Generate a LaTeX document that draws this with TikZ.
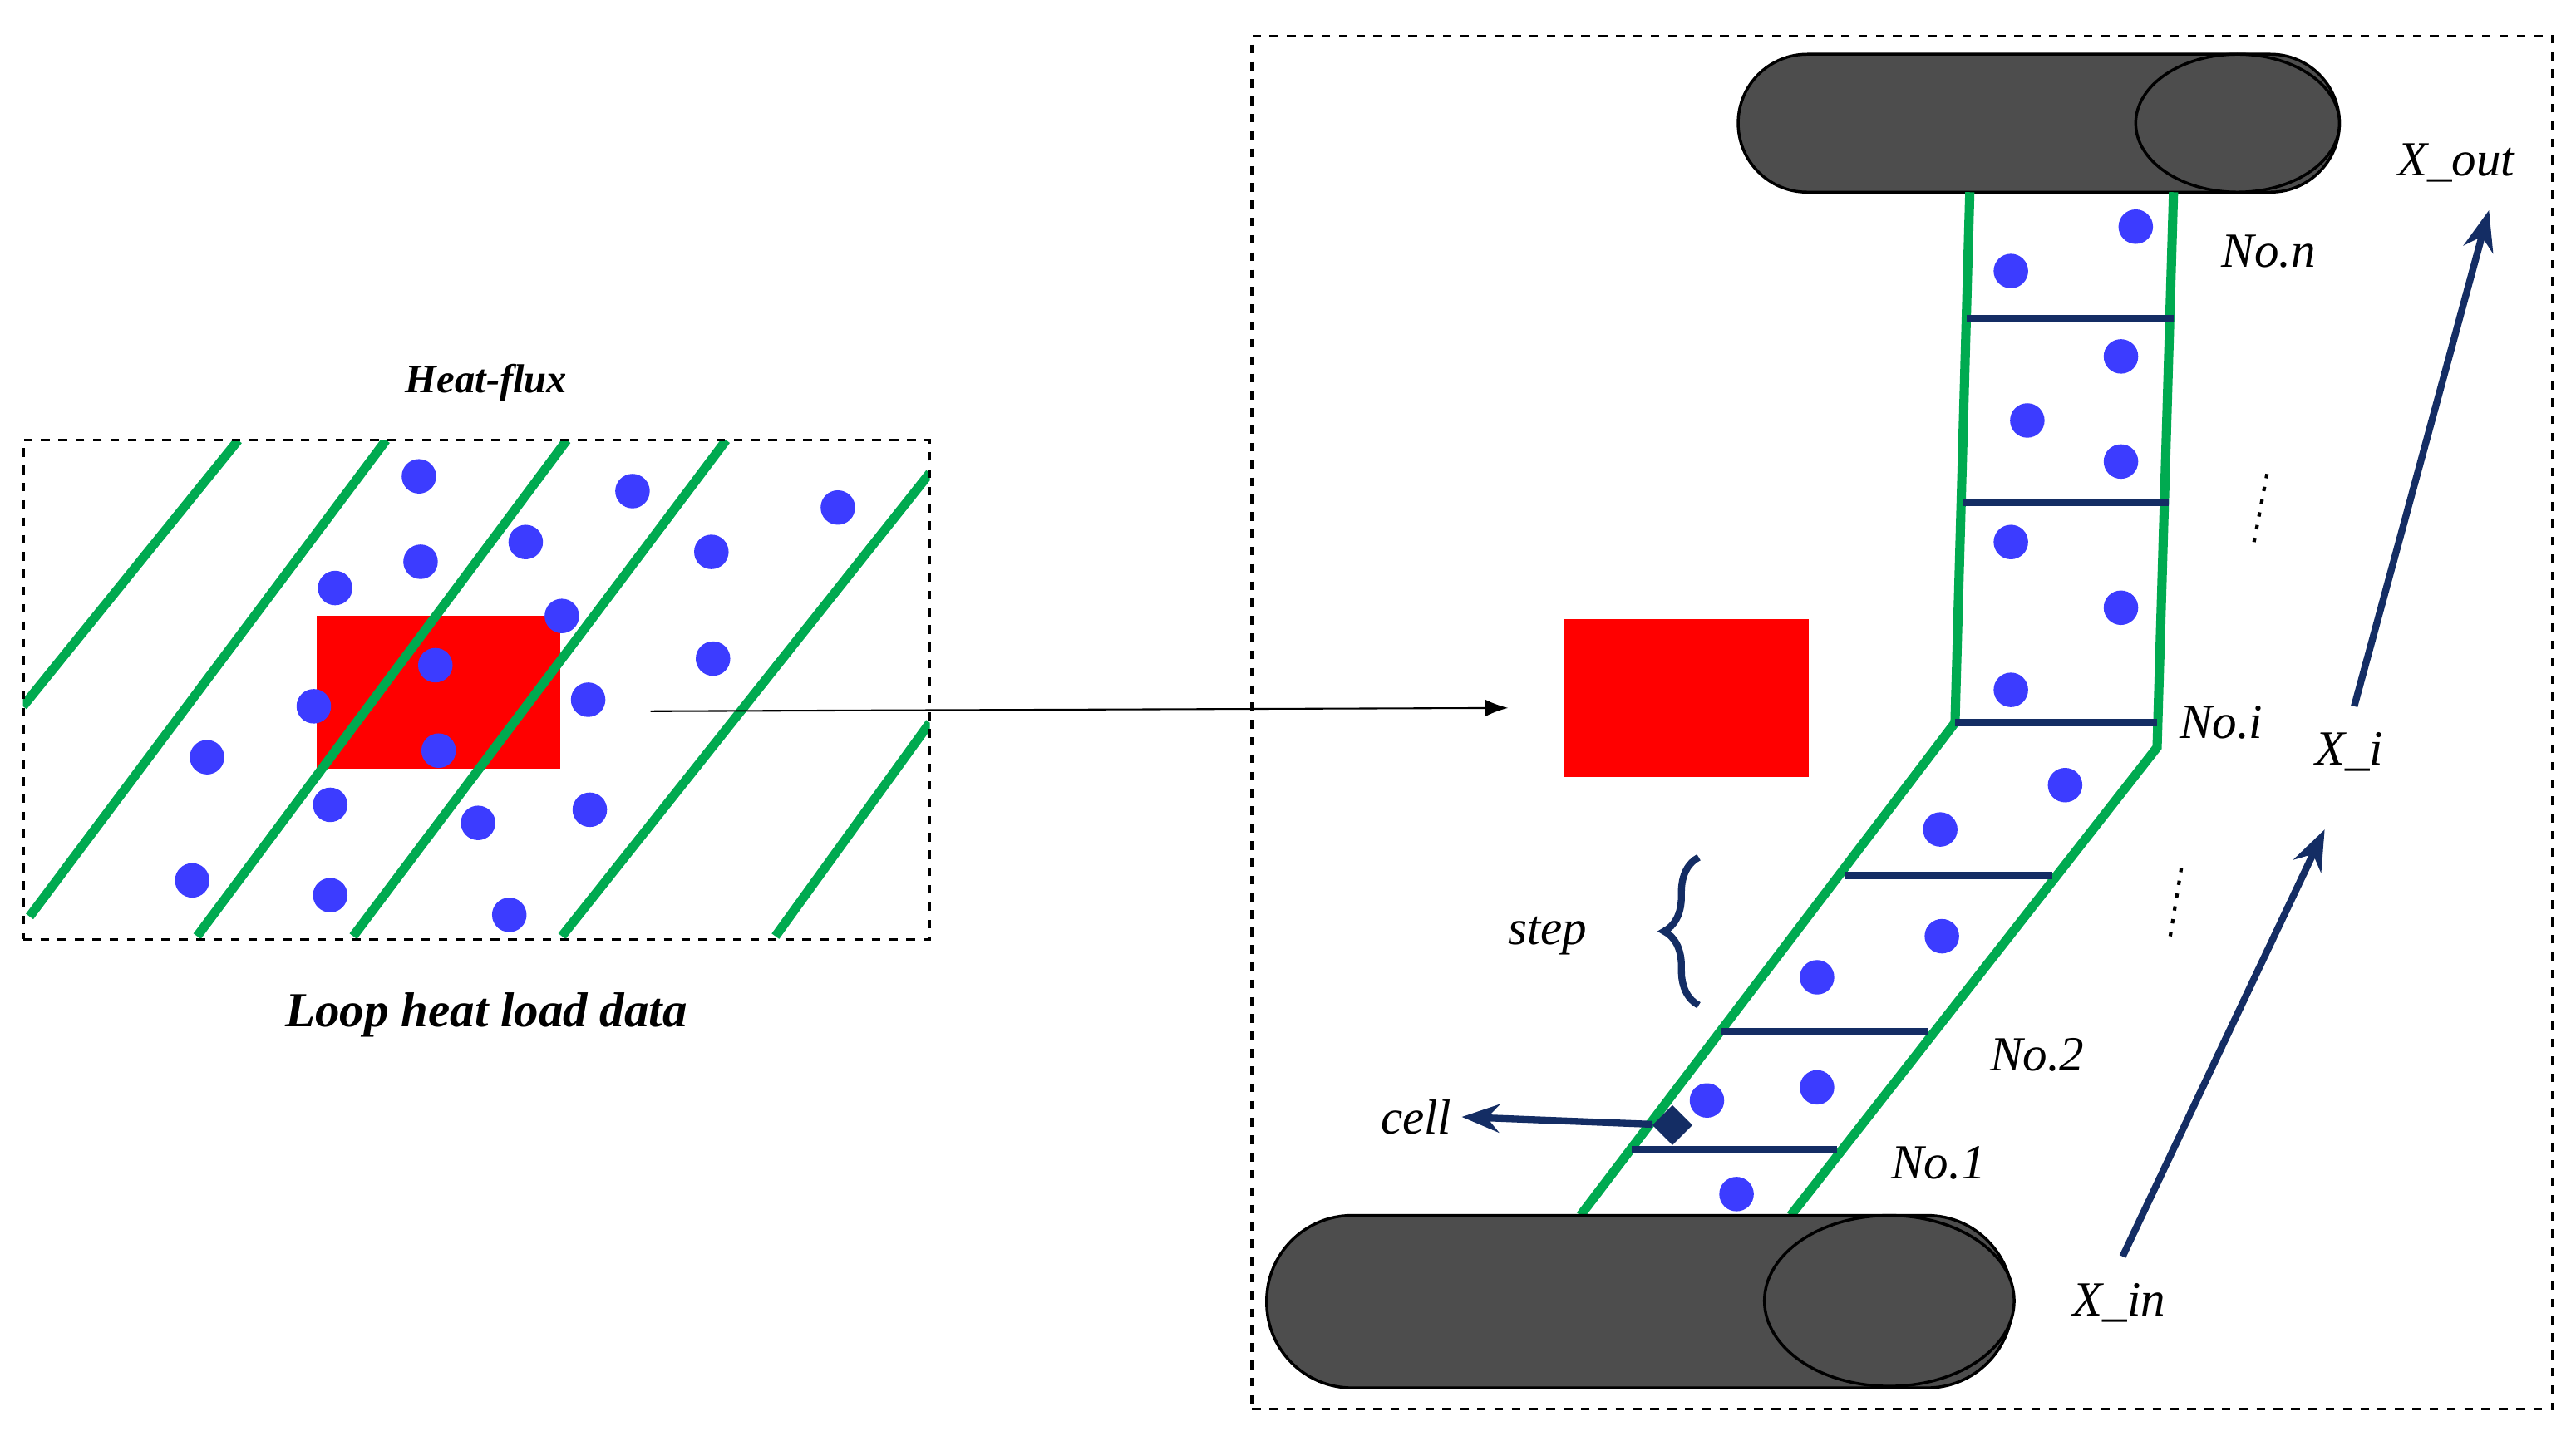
\documentclass[tikz,border=0pt]{standalone}
\usepackage{fontspec}
\setmainfont{Liberation Serif}
\usetikzlibrary{arrows.meta,decorations.pathreplacing,shapes.geometric}
\definecolor{gr}{RGB}{0,170,80}
\definecolor{nv}{RGB}{20,45,100}
\definecolor{bd}{RGB}{60,60,255}
\definecolor{cyl}{RGB}{77,77,77}
\begin{document}
\begin{tikzpicture}[x=0.02cm,y=-0.02cm,
  dot/.style={fill=bd,draw=none},
  grl/.style={draw=gr,line width=3.2pt},
  nvl/.style={draw=nv,line width=2.4pt},
  lab/.style={font=\itshape\fontsize{17}{20}\selectfont},
  frame/.style={draw=black,dashed,line width=1pt}]
\useasboundingbox (0,0) rectangle (1568,877);
% left panel
\fill[red] (193,375) rectangle (341,468);
\begin{scope}
\clip (14,268) rectangle (566,572);
\foreach \a/\b/\c/\d in {14/430/145/268, 18/558/235/268, 120/570/345/268, 215/570/442/268, 342/570/566/288, 472/570/566/440}
  \draw[grl] (\a,\b) -- (\c,\d);
\end{scope}
\node[frame,minimum width=11.04cm,minimum height=6.08cm,inner sep=0] (lp) at (290,420) {};
\foreach \x/\y in {255/290,385/299,510/309,320/330,256/342,433/336,204/358,342/375,265/405,434/401,191/430,358/426,267/457,126/461,201/490,291/501,359/493,117/536,201/545,310/557}
  \fill[dot] (\x,\y) circle (10.5);
\node[font=\bfseries\itshape\fontsize{14}{16}\selectfont] (hf) at (296,233) {Heat-flux};
\node[font=\bfseries\itshape\fontsize{17}{20}\selectfont] (ld) at (296,618) {Loop heat load data};
\coordinate (as) at (396,433);
\coordinate (ae) at (918,431);
\draw[-{Latex[length=8pt]},line width=0.6pt] (as) -- (ae);
% right panel
\node[frame,minimum width=15.84cm,minimum height=16.72cm,inner sep=0] (rp) at (1158,440) {};
\fill[red] (952,377) rectangle (1101,473);
% cylinders
\draw[black,line width=1pt,fill=cyl,rounded corners=42*0.02cm] (1058,33) rectangle (1424,117);
\draw[black,line width=1pt,fill=cyl] (1362,75) ellipse [x radius=62, y radius=42];
% channel
\draw[grl] (1199,117) -- (1190,440) -- (962,740);
\draw[grl] (1323,117) -- (1313,455) -- (1090,740);
\foreach \a/\b/\c/\d in {1197/194/1323/194, 1195/306/1320/306, 1190/440/1313/440, 1123/533/1249/533, 1048/628/1174/628, 993/700/1118/700}
  \draw[nvl] (\a,\b) -- (\c,\d);
\draw[black,line width=1pt,fill=cyl,rounded corners=52*0.02cm] (771,740) rectangle (1225,845);
\draw[black,line width=1pt,fill=cyl] (1150,792) ellipse [x radius=76, y radius=52];
\foreach \x/\y in {1300/138,1224/165,1291/217,1234/256,1291/281,1224/330,1291/370,1224/420,1257/478,1181/505,1182/570,1106/595,1106/662,1039/670,1057/727}
  \fill[dot] (\x,\y) circle (10.5);
\node[lab] (nn) at (1381,153) {No.n};
\node[lab] (ni) at (1352,440) {No.i};
\node[lab] (n2) at (1240,642) {No.2};
\node[lab] (n1) at (1180,708) {No.1};
\node[lab] (st) at (942,570) {step};
\node[lab] (ce) at (862,680) {cell};
\node[lab] (xo) at (1495,99) {X\_out};
\node[lab] (xi) at (1430,458) {X\_i};
\node[lab] (xn) at (1290,793) {X\_in};
\draw[black,line width=1.2pt,dash pattern=on 1.5pt off 3pt] (1372,330) -- (1380,288);
\draw[black,line width=1.2pt,dash pattern=on 1.5pt off 3pt] (1321,570) -- (1328,527);
\draw[nv,line width=2.4pt,decorate,decoration={brace,amplitude=12pt}] (1034,612) -- (1034,522);
\node[nv,diamond,fill=nv,minimum size=14pt,inner sep=0] (cd) at (1018,685) {};
\draw[nvl,-{Stealth[length=13pt]}] (cd) -- (ce.east);
\coordinate (a1s) at (1292,765); \coordinate (a1e) at (1415,505);
\coordinate (a2s) at (1433,430); \coordinate (a2e) at (1515,128);
\draw[nvl,-{Stealth[length=14pt]}] (a1s) -- (a1e);
\draw[nvl,-{Stealth[length=14pt]}] (a2s) -- (a2e);
\end{tikzpicture}
\end{document}
